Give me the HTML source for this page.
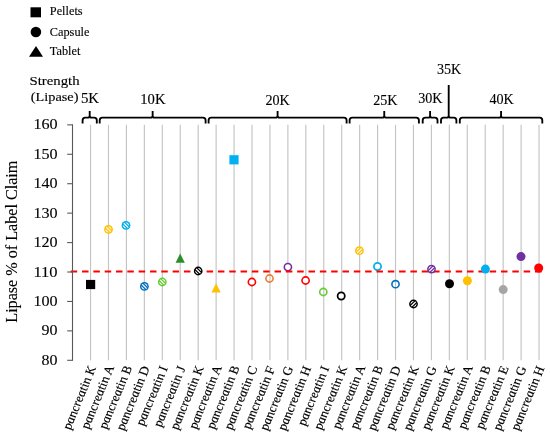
<!DOCTYPE html>
<html><head><meta charset="utf-8"><title>Lipase % of Label Claim</title>
<style>
html,body{margin:0;padding:0;background:#fff;}
body{width:550px;height:438px;overflow:hidden;}
svg{display:block;}
text{font-family:"Liberation Serif", "DejaVu Serif", serif;fill:#000;stroke:#000;stroke-width:0.12px;}
.it{font-style:italic;stroke-width:0.16px;}
</style></head><body>
<svg width="550" height="438" viewBox="0 0 550 438">
<defs>
<clipPath id="cc"><circle cx="0" cy="0" r="2.95"/></clipPath>
</defs>
<g stroke="#C4C4C4" stroke-width="1.15">
<line x1="90.54" y1="124.8" x2="90.54" y2="360.3"/>
<line x1="108.48" y1="124.8" x2="108.48" y2="360.3"/>
<line x1="126.42" y1="124.8" x2="126.42" y2="360.3"/>
<line x1="144.36" y1="124.8" x2="144.36" y2="360.3"/>
<line x1="162.30" y1="124.8" x2="162.30" y2="360.3"/>
<line x1="180.24" y1="124.8" x2="180.24" y2="360.3"/>
<line x1="198.18" y1="124.8" x2="198.18" y2="360.3"/>
<line x1="216.12" y1="124.8" x2="216.12" y2="360.3"/>
<line x1="234.06" y1="124.8" x2="234.06" y2="360.3"/>
<line x1="252.00" y1="124.8" x2="252.00" y2="360.3"/>
<line x1="269.94" y1="124.8" x2="269.94" y2="360.3"/>
<line x1="287.88" y1="124.8" x2="287.88" y2="360.3"/>
<line x1="305.82" y1="124.8" x2="305.82" y2="360.3"/>
<line x1="323.76" y1="124.8" x2="323.76" y2="360.3"/>
<line x1="341.70" y1="124.8" x2="341.70" y2="360.3"/>
<line x1="359.64" y1="124.8" x2="359.64" y2="360.3"/>
<line x1="377.58" y1="124.8" x2="377.58" y2="360.3"/>
<line x1="395.52" y1="124.8" x2="395.52" y2="360.3"/>
<line x1="413.46" y1="124.8" x2="413.46" y2="360.3"/>
<line x1="431.40" y1="124.8" x2="431.40" y2="360.3"/>
<line x1="449.34" y1="124.8" x2="449.34" y2="360.3"/>
<line x1="467.28" y1="124.8" x2="467.28" y2="360.3"/>
<line x1="485.22" y1="124.8" x2="485.22" y2="360.3"/>
<line x1="503.16" y1="124.8" x2="503.16" y2="360.3"/>
<line x1="521.10" y1="124.8" x2="521.10" y2="360.3"/>
<line x1="539.04" y1="124.8" x2="539.04" y2="360.3"/>
</g>
<g font-size="15" text-anchor="end">
<text x="57.6" y="364.90" textLength="16.0" lengthAdjust="spacingAndGlyphs">80</text>
<text x="57.6" y="335.47" textLength="16.0" lengthAdjust="spacingAndGlyphs">90</text>
<text x="57.6" y="306.04" textLength="24.2" lengthAdjust="spacingAndGlyphs">100</text>
<text x="57.6" y="276.61" textLength="24.2" lengthAdjust="spacingAndGlyphs">110</text>
<text x="57.6" y="247.18" textLength="24.2" lengthAdjust="spacingAndGlyphs">120</text>
<text x="57.6" y="217.74" textLength="24.2" lengthAdjust="spacingAndGlyphs">130</text>
<text x="57.6" y="188.31" textLength="24.2" lengthAdjust="spacingAndGlyphs">140</text>
<text x="57.6" y="158.88" textLength="24.2" lengthAdjust="spacingAndGlyphs">150</text>
<text x="57.6" y="129.45" textLength="24.2" lengthAdjust="spacingAndGlyphs">160</text>
</g>
<text font-size="15.8" transform="translate(17.3,241.7) rotate(-90)" text-anchor="middle" textLength="162" lengthAdjust="spacingAndGlyphs">Lipase % of Label Claim</text>
<circle cx="251.90" cy="282.00" r="3.6" fill="#fff" stroke="#FF0000" stroke-width="1.60"/>
<circle cx="269.50" cy="278.50" r="3.6" fill="none" stroke="#ED7D31" stroke-width="1.60"/>
<circle cx="287.90" cy="267.10" r="3.6" fill="#fff" stroke="#7030A0" stroke-width="1.60"/>
<circle cx="305.60" cy="280.50" r="3.6" fill="#fff" stroke="#FF0000" stroke-width="1.60"/>
<circle cx="323.30" cy="292.00" r="3.6" fill="none" stroke="#66CC33" stroke-width="1.60"/>
<circle cx="341.20" cy="296.00" r="3.6" fill="#fff" stroke="#000000" stroke-width="1.75"/>
<circle cx="377.50" cy="266.50" r="3.6" fill="#fff" stroke="#00B0F0" stroke-width="1.75"/>
<circle cx="395.50" cy="284.20" r="3.6" fill="none" stroke="#0070C0" stroke-width="1.60"/>
<line x1="70.7" y1="271.6" x2="542" y2="271.6" stroke="#FF0000" stroke-width="2" stroke-dasharray="6.5 4.824"/>
<rect x="86.00" y="279.90" width="9.2" height="9.2" fill="#000000"/>
<g transform="translate(108.50,229.40)"><circle r="4.4" fill="#FFC000"/><g clip-path="url(#cc)" stroke="#fff" stroke-width="1.25"><line x1="-4.77" y1="-1.23" x2="1.23" y2="4.77"/><line x1="-3.00" y1="-3.00" x2="3.00" y2="3.00"/><line x1="-1.23" y1="-4.77" x2="4.77" y2="1.23"/></g></g>
<g transform="translate(126.00,225.40)"><circle r="4.4" fill="#00B0F0"/><g clip-path="url(#cc)" stroke="#fff" stroke-width="1.25"><line x1="-4.77" y1="-1.23" x2="1.23" y2="4.77"/><line x1="-3.00" y1="-3.00" x2="3.00" y2="3.00"/><line x1="-1.23" y1="-4.77" x2="4.77" y2="1.23"/></g></g>
<g transform="translate(144.40,286.40)"><circle r="4.4" fill="#0070C0"/><g clip-path="url(#cc)" stroke="#fff" stroke-width="1.25"><line x1="-4.77" y1="-1.23" x2="1.23" y2="4.77"/><line x1="-3.00" y1="-3.00" x2="3.00" y2="3.00"/><line x1="-1.23" y1="-4.77" x2="4.77" y2="1.23"/></g></g>
<g transform="translate(162.30,282.00)"><circle r="4.4" fill="#66CC33"/><g clip-path="url(#cc)" stroke="#fff" stroke-width="1.25"><line x1="-4.77" y1="-1.23" x2="1.23" y2="4.77"/><line x1="-3.00" y1="-3.00" x2="3.00" y2="3.00"/><line x1="-1.23" y1="-4.77" x2="4.77" y2="1.23"/></g></g>
<polygon points="175.60,262.70 184.80,262.70 180.20,253.50" fill="#2A8F2A"/>
<g transform="translate(198.20,271.00)"><circle r="4.4" fill="#000000"/><g clip-path="url(#cc)" stroke="#fff" stroke-width="1.25"><line x1="-4.77" y1="-1.23" x2="1.23" y2="4.77"/><line x1="-3.00" y1="-3.00" x2="3.00" y2="3.00"/><line x1="-1.23" y1="-4.77" x2="4.77" y2="1.23"/></g></g>
<polygon points="211.50,292.40 220.70,292.40 216.10,283.20" fill="#FFC000"/>
<rect x="229.40" y="155.20" width="9.2" height="9.2" fill="#00B0F0"/>
<g transform="translate(359.40,250.70)"><circle r="4.4" fill="#FFC000"/><g clip-path="url(#cc)" stroke="#fff" stroke-width="1.25"><line x1="-4.77" y1="1.23" x2="1.23" y2="-4.77"/><line x1="-3.00" y1="3.00" x2="3.00" y2="-3.00"/><line x1="-1.23" y1="4.77" x2="4.77" y2="-1.23"/></g></g>
<g transform="translate(413.50,304.00)"><circle r="4.4" fill="#000000"/><g clip-path="url(#cc)" stroke="#fff" stroke-width="1.25"><line x1="-4.77" y1="1.23" x2="1.23" y2="-4.77"/><line x1="-3.00" y1="3.00" x2="3.00" y2="-3.00"/><line x1="-1.23" y1="4.77" x2="4.77" y2="-1.23"/></g></g>
<g transform="translate(431.50,269.10)"><circle r="4.4" fill="#7030A0"/><g clip-path="url(#cc)" stroke="#fff" stroke-width="1.25"><line x1="-4.77" y1="1.23" x2="1.23" y2="-4.77"/><line x1="-3.00" y1="3.00" x2="3.00" y2="-3.00"/><line x1="-1.23" y1="4.77" x2="4.77" y2="-1.23"/></g></g>
<circle cx="449.50" cy="283.80" r="4.5" fill="#000000"/>
<circle cx="467.40" cy="280.80" r="4.5" fill="#FFC000"/>
<circle cx="485.40" cy="269.10" r="4.5" fill="#00B0F0"/>
<circle cx="503.20" cy="289.60" r="4.5" fill="#A5A5A5"/>
<circle cx="521.00" cy="256.60" r="4.5" fill="#7030A0"/>
<circle cx="538.70" cy="268.00" r="4.5" fill="#FF0000"/>
<g stroke="#595959" stroke-width="1.1" fill="none">
<line x1="72.5" y1="124.3" x2="72.5" y2="360.8"/>
<line x1="67.2" y1="360.30" x2="72.5" y2="360.30"/>
<line x1="67.2" y1="330.87" x2="72.5" y2="330.87"/>
<line x1="67.2" y1="301.44" x2="72.5" y2="301.44"/>
<line x1="67.2" y1="272.01" x2="72.5" y2="272.01"/>
<line x1="67.2" y1="242.58" x2="72.5" y2="242.58"/>
<line x1="67.2" y1="213.14" x2="72.5" y2="213.14"/>
<line x1="67.2" y1="183.71" x2="72.5" y2="183.71"/>
<line x1="67.2" y1="154.28" x2="72.5" y2="154.28"/>
<line x1="67.2" y1="124.85" x2="72.5" y2="124.85"/>
</g>
<g font-size="13" class="it" text-anchor="end" stroke="#000" stroke-width="0.22">
<text class="it" transform="translate(96.34,367.5) rotate(-67.5) skewX(12)">pancreatin K</text>
<text class="it" transform="translate(114.28,367.5) rotate(-67.5) skewX(12)">pancreatin A</text>
<text class="it" transform="translate(132.22,367.5) rotate(-67.5) skewX(12)">pancreatin B</text>
<text class="it" transform="translate(150.16,367.5) rotate(-67.5) skewX(12)">pancreatin D</text>
<text class="it" transform="translate(168.10,367.5) rotate(-67.5) skewX(12)">pancreatin I</text>
<text class="it" transform="translate(186.04,367.5) rotate(-67.5) skewX(12)">pancreatin J</text>
<text class="it" transform="translate(203.98,367.5) rotate(-67.5) skewX(12)">pancreatin K</text>
<text class="it" transform="translate(221.92,367.5) rotate(-67.5) skewX(12)">pancreatin A</text>
<text class="it" transform="translate(239.86,367.5) rotate(-67.5) skewX(12)">pancreatin B</text>
<text class="it" transform="translate(257.80,367.5) rotate(-67.5) skewX(12)">pancreatin C</text>
<text class="it" transform="translate(275.74,367.5) rotate(-67.5) skewX(12)">pancreatin F</text>
<text class="it" transform="translate(293.68,367.5) rotate(-67.5) skewX(12)">pancreatin G</text>
<text class="it" transform="translate(311.62,367.5) rotate(-67.5) skewX(12)">pancreatin H</text>
<text class="it" transform="translate(329.56,367.5) rotate(-67.5) skewX(12)">pancreatin I</text>
<text class="it" transform="translate(347.50,367.5) rotate(-67.5) skewX(12)">pancreatin K</text>
<text class="it" transform="translate(365.44,367.5) rotate(-67.5) skewX(12)">pancreatin A</text>
<text class="it" transform="translate(383.38,367.5) rotate(-67.5) skewX(12)">pancreatin B</text>
<text class="it" transform="translate(401.32,367.5) rotate(-67.5) skewX(12)">pancreatin D</text>
<text class="it" transform="translate(419.26,367.5) rotate(-67.5) skewX(12)">pancreatin K</text>
<text class="it" transform="translate(437.20,367.5) rotate(-67.5) skewX(12)">pancreatin G</text>
<text class="it" transform="translate(455.14,367.5) rotate(-67.5) skewX(12)">pancreatin K</text>
<text class="it" transform="translate(473.08,367.5) rotate(-67.5) skewX(12)">pancreatin A</text>
<text class="it" transform="translate(491.02,367.5) rotate(-67.5) skewX(12)">pancreatin B</text>
<text class="it" transform="translate(508.96,367.5) rotate(-67.5) skewX(12)">pancreatin E</text>
<text class="it" transform="translate(526.90,367.5) rotate(-67.5) skewX(12)">pancreatin G</text>
<text class="it" transform="translate(544.84,367.5) rotate(-67.5) skewX(12)">pancreatin H</text>
</g>
<g stroke="#000" stroke-width="1.85" fill="none" stroke-linecap="butt">
<path d="M82.60,123.60 L82.60,120.15 Q82.60,117.55 85.20,117.55 L87.80,117.55 Q89.70,117.55 89.70,115.65 L89.70,111.00 M96.80,123.60 L96.80,120.15 Q96.80,117.55 94.20,117.55 L91.60,117.55 Q89.70,117.55 89.70,115.65 L89.70,111.00"/>
<path d="M99.70,123.60 L99.70,120.15 Q99.70,117.55 102.30,117.55 L150.75,117.55 Q152.65,117.55 152.65,115.65 L152.65,111.00 M205.60,123.60 L205.60,120.15 Q205.60,117.55 203.00,117.55 L154.55,117.55 Q152.65,117.55 152.65,115.65 L152.65,111.00"/>
<path d="M208.60,123.60 L208.60,120.15 Q208.60,117.55 211.20,117.55 L275.70,117.55 Q277.60,117.55 277.60,115.65 L277.60,111.00 M346.60,123.60 L346.60,120.15 Q346.60,117.55 344.00,117.55 L279.50,117.55 Q277.60,117.55 277.60,115.65 L277.60,111.00"/>
<path d="M349.60,123.60 L349.60,120.15 Q349.60,117.55 352.20,117.55 L382.35,117.55 Q384.25,117.55 384.25,115.65 L384.25,111.00 M418.90,123.60 L418.90,120.15 Q418.90,117.55 416.30,117.55 L386.15,117.55 Q384.25,117.55 384.25,115.65 L384.25,111.00"/>
<path d="M422.70,123.60 L422.70,120.15 Q422.70,117.55 425.30,117.55 L428.20,117.55 Q430.10,117.55 430.10,115.65 L430.10,111.00 M437.50,123.60 L437.50,120.15 Q437.50,117.55 434.90,117.55 L432.00,117.55 Q430.10,117.55 430.10,115.65 L430.10,111.00"/>
<path d="M441.00,123.60 L441.00,120.15 Q441.00,117.55 443.60,117.55 L446.80,117.55 Q448.70,117.55 448.70,115.65 L448.70,85.00 M456.40,123.60 L456.40,120.15 Q456.40,117.55 453.80,117.55 L450.60,117.55 Q448.70,117.55 448.70,115.65 L448.70,85.00"/>
<path d="M459.80,123.60 L459.80,120.15 Q459.80,117.55 462.40,117.55 L499.15,117.55 Q501.05,117.55 501.05,115.65 L501.05,111.00 M542.30,123.60 L542.30,120.15 Q542.30,117.55 539.70,117.55 L502.95,117.55 Q501.05,117.55 501.05,115.65 L501.05,111.00"/>
</g>
<g font-size="13.6" text-anchor="middle">
<text x="90.0" y="102.7" textLength="18.2" lengthAdjust="spacingAndGlyphs">5K</text>
<text x="152.9" y="103.6" textLength="25.2" lengthAdjust="spacingAndGlyphs">10K</text>
<text x="277.6" y="104.5" textLength="24.3" lengthAdjust="spacingAndGlyphs">20K</text>
<text x="385.4" y="104.5" textLength="24.3" lengthAdjust="spacingAndGlyphs">25K</text>
<text x="430.4" y="103.2" textLength="24.3" lengthAdjust="spacingAndGlyphs">30K</text>
<text x="449.1" y="73.8" textLength="24.3" lengthAdjust="spacingAndGlyphs">35K</text>
<text x="501.6" y="104.4" textLength="24.3" lengthAdjust="spacingAndGlyphs">40K</text>
</g>
<g font-size="13.2">
<text x="29.5" y="85" textLength="50.1" lengthAdjust="spacingAndGlyphs">Strength</text>
<text x="30.8" y="101" textLength="47.7" lengthAdjust="spacingAndGlyphs">(Lipase)</text>
</g>
<rect x="30.5" y="7.3" width="10.5" height="10" fill="#000"/>
<circle cx="35.9" cy="32" r="5.3" fill="#000"/>
<polygon points="29,56.7 43,56.7 36,46" fill="#000"/>
<g font-size="12.3">
<text x="49.8" y="15.3">Pellets</text>
<text x="49.8" y="35.6">Capsule</text>
<text x="49.8" y="55">Tablet</text>
</g>
</svg>
</body></html>
